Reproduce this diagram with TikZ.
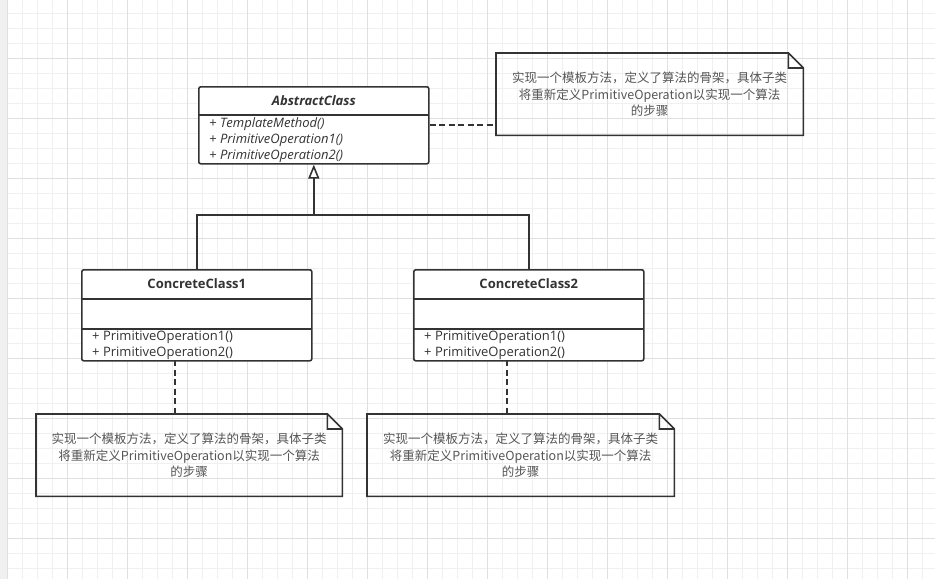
\documentclass[tikz,border=0pt]{standalone}
\usepackage{fontspec}
\setmainfont{Open Sans}
\newfontfamily\cjk{Noto Sans CJK SC}
\usetikzlibrary{arrows.meta}

\definecolor{lineGray}{HTML}{333333}
\definecolor{gridMinor}{HTML}{F0F0F0}
\definecolor{gridMajor}{HTML}{E0E0E0}
\definecolor{noteText}{HTML}{555555}

\begin{document}
\begin{tikzpicture}[x = 1pt, y = -1pt,
    classbox/.style = {draw = lineGray, line width = 1.6pt, fill = white,
        rounded corners = 2pt, inner sep = 0pt, anchor = north west},
    notebox/.style = {inner sep = 0pt, anchor = north west, align = center,
        text = noteText, font = \cjk\fontsize{12.5}{16.5}\selectfont},
    title/.style = {text = lineGray, font = \bfseries\fontsize{13}{15}\selectfont},
    ops/.style = {anchor = west, align = left, inner sep = 0pt, text = lineGray,
        font = \fontsize{13}{16}\selectfont},
    line/.style = {draw = lineGray, line width = 1.6pt},
    link/.style = {draw = lineGray, line width = 1.8pt, dash pattern = on 6pt off 3.5pt}
    ]

    \useasboundingbox (0,0) rectangle (935,579);

    %% Drawing the background grid
    \fill [white] (0,0) rectangle (935,579);
    \fill [gridMinor] (0,0) rectangle (7,579);
    \foreach \x in {22,37,...,935} {
        \draw [gridMinor, line width = 0.8pt] (\x,0) -- (\x,579);
    }
    \foreach \y in {13,28,...,579} {
        \draw [gridMinor, line width = 0.8pt] (7,\y) -- (935,\y);
    }
    \foreach \x in {7,67,...,935} {
        \draw [gridMajor, line width = 0.8pt] (\x,0) -- (\x,579);
    }
    \foreach \y in {58,118,...,579} {
        \draw [gridMajor, line width = 0.8pt] (7,\y) -- (935,\y);
    }

    %% Drawing AbstractClass
    \node [classbox, minimum width = 230pt, minimum height = 77pt]
    (abstract) at (198,86) {};

    \draw [line]
    (abstract.north west)
    ++(0,29) -- ++(230,0)
    ;

    \path
    (abstract.north)
    ++(0,15)
    node [title, font = \bfseries\itshape\fontsize{13}{15}\selectfont] (abstractName) {AbstractClass}
    (abstract.north west)
    ++(11,54)
    node [ops, font = \itshape\fontsize{13}{16}\selectfont] (abstractOps)
    {+ TemplateMethod()\\+ PrimitiveOperation1()\\+ PrimitiveOperation2()}
    ;

    %% Drawing the two concrete classes
    \node [classbox, minimum width = 230pt, minimum height = 91pt]
    (classOne) at (81,269) {};

    \node [classbox, minimum width = 230pt, minimum height = 91pt]
    (classTwo) at (413,269) {};

    \foreach \c/\i in {classOne/1, classTwo/2} {
        \draw [line]
        (\c.north west)
        ++(0,30) -- ++(230,0)
        ++(-230,30) -- ++(230,0)
        ;

        \path
        (\c.north)
        ++(0,15)
        node [title] (\c Name) {ConcreteClass\i}
        (\c.north west)
        ++(11,76)
        node [ops] (\c Ops) {+ PrimitiveOperation1()\\+ PrimitiveOperation2()}
        ;
    }

    %% Drawing the notes
    \node [notebox, minimum width = 307pt, minimum height = 82pt]
    (noteTop) at (496,53)
    {实现一个模板方法，定义了算法的骨架，具体子类\\将重新定义PrimitiveOperation以实现一个算法\\的步骤};

    \node [notebox, minimum width = 306pt, minimum height = 82pt]
    (noteOne) at (36,414)
    {实现一个模板方法，定义了算法的骨架，具体子类\\将重新定义PrimitiveOperation以实现一个算法\\的步骤};

    \node [notebox, minimum width = 307pt, minimum height = 82pt]
    (noteTwo) at (367,414)
    {实现一个模板方法，定义了算法的骨架，具体子类\\将重新定义PrimitiveOperation以实现一个算法\\的步骤};

    \foreach \n in {noteTop, noteOne, noteTwo} {
        \draw [line, line join = miter]
        (\n.north west)
        -- ([xshift = -15pt]\n.north east)
        -- ([yshift = -15pt]\n.north east)
        -- (\n.south east)
        -- (\n.south west)
        -- cycle
        ([xshift = -15pt]\n.north east)
        |- ([yshift = -15pt]\n.north east)
        ;
    }

    %% Drawing the inheritance lines
    \draw [line]
    (classOne.north)
    -- ++(0,-54)
    coordinate (joint)
    -- (joint -| classTwo.north)
    -- (classTwo.north)
    ;

    \draw [line, -{Triangle[length = 14pt, width = 11pt, fill = white]}]
    (joint -| abstract.south) -- (abstract.south)
    ;

    %% Drawing the dashed links to the notes
    \draw [link]
    (abstract.east) -- (abstract.east -| noteTop.west)
    ;

    \coordinate (linkOne) at (175,360);
    \coordinate (linkTwo) at (507,360);

    \draw [link]
    (linkOne) -- (linkOne |- noteOne.north)
    (linkTwo) -- (linkTwo |- noteTwo.north)
    ;

\end{tikzpicture}
\end{document}
